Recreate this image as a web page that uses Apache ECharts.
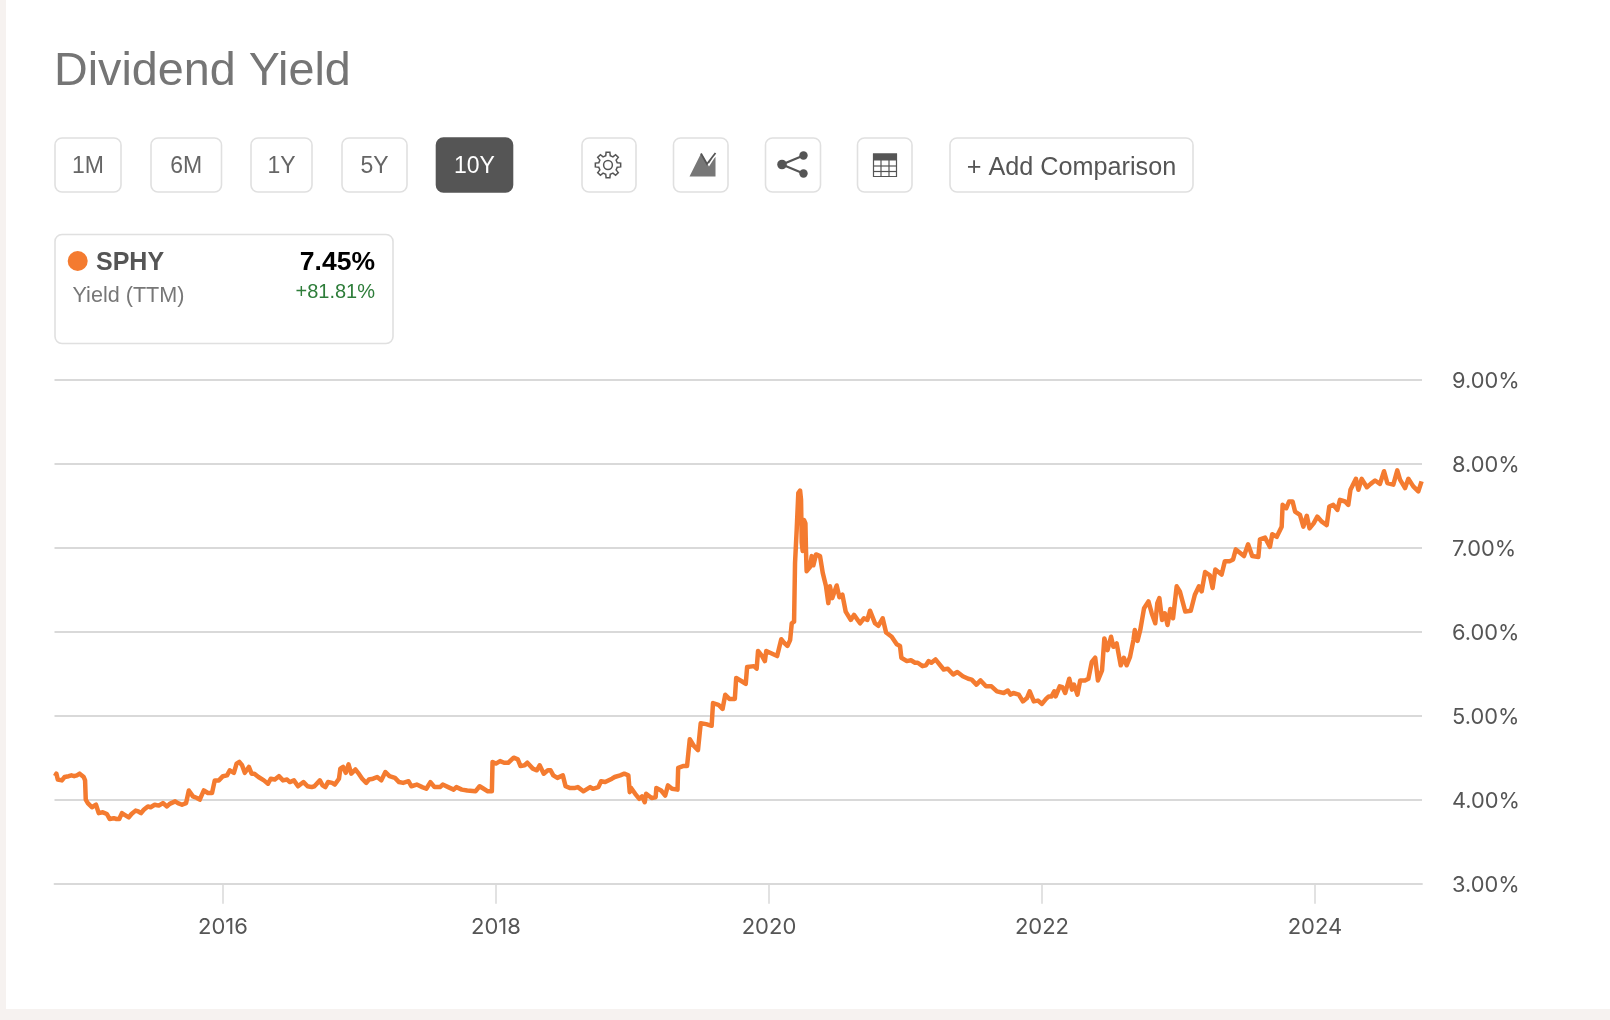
<!DOCTYPE html>
<html><head><meta charset="utf-8"><title>Dividend Yield</title>
<style>html,body{margin:0;padding:0;background:#f6f2f0;overflow:hidden}#c{width:1610px;height:1020px}</style>
<script src="https://cdn.jsdelivr.net/npm/echarts@6/dist/echarts.min.js"></script></head>
<body><div id="c"></div><script>
const yearTicks=[2016,2018,2020,2022,2024];
const rangeLabels=['1M','6M','1Y','5Y','10Y'];
const years=[
2014.77,2014.78,2014.79,2014.82,2014.84,2014.87,2014.89,2014.91,2014.93,2014.95,
2014.98,2014.99,2014.995,2015.01,2015.04,2015.07,2015.09,2015.12,2015.15,2015.17,
2015.20,2015.22,2015.24,2015.26,2015.28,2015.31,2015.33,2015.36,2015.38,2015.40,
2015.42,2015.45,2015.47,2015.50,2015.53,2015.56,2015.59,2015.61,2015.65,2015.67,
2015.70,2015.73,2015.75,2015.78,2015.81,2015.83,2015.86,2015.89,2015.92,2015.94,
2015.97,2016.00,2016.03,2016.05,2016.08,2016.10,2016.12,2016.14,2016.16,2016.19,
2016.21,2016.23,2016.26,2016.30,2016.33,2016.35,2016.38,2016.41,2016.44,2016.47,
2016.49,2016.52,2016.55,
2016.59,2016.62,2016.65,2016.67,2016.71,2016.73,2016.75,2016.77,2016.80,2016.82,
2016.85,2016.86,2016.88,2016.90,2016.92,2016.94,2016.97,2016.99,2017.02,2017.05,
2017.07,2017.10,2017.13,2017.16,2017.19,2017.22,2017.26,2017.29,2017.32,2017.36,
2017.38,2017.42,2017.46,2017.49,2017.52,2017.55,2017.59,2017.61,2017.65,2017.69,
2017.71,2017.75,2017.79,2017.85,2017.88,2017.91,2017.94,2017.97,2017.975,2018.00,
2018.03,2018.06,2018.09,2018.13,2018.16,2018.18,2018.21,2018.23,2018.27,2018.30,
2018.32,2018.35,2018.38,
2018.40,2018.42,2018.45,2018.49,2018.51,2018.54,2018.58,2018.60,2018.64,2018.69,
2018.71,2018.75,2018.77,2018.80,2018.85,2018.87,2018.91,2018.94,2018.97,2018.98,
2018.99,2019.02,2019.05,2019.07,2019.09,2019.10,2019.14,2019.17,2019.175,2019.21,
2019.24,2019.26,2019.29,2019.33,2019.335,2019.37,2019.40,2019.41,2019.42,2019.45,
2019.48,2019.50,2019.54,2019.58,2019.59,2019.63,2019.66,2019.68,2019.71,2019.75,
2019.76,2019.80,2019.83,2019.84,2019.89,2019.91,2019.92,2019.95,2019.97,2019.98,
2020.02,2020.06,
2020.09,2020.11,2020.135,2020.155,2020.167,2020.184,2020.191,2020.203,2020.215,2020.228,
2020.235,2020.24,2020.247,2020.257,2020.267,2020.271,2020.276,2020.30,2020.313,2020.325,
2020.345,2020.374,2020.394,2020.418,2020.435,2020.447,2020.464,2020.496,2020.516,2020.538,
2020.562,2020.599,2020.623,2020.667,2020.696,2020.721,2020.74,2020.777,2020.801,2020.833,
2020.858,2020.899,2020.936,
2020.96,2020.97,2021.01,2021.04,2021.07,2021.09,2021.125,2021.15,2021.17,2021.19,
2021.22,2021.25,2021.28,2021.31,2021.35,2021.38,2021.42,2021.46,2021.485,2021.52,
2021.55,2021.59,2021.63,2021.67,2021.72,2021.75,2021.77,2021.79,2021.83,2021.86,
2021.89,2021.91,2021.94,2021.97,2022.00,2022.03,2022.05,
2022.07,2022.09,2022.10,2022.13,2022.15,2022.17,2022.20,2022.22,2022.235,2022.26,
2022.28,2022.315,2022.34,2022.365,2022.39,2022.41,2022.44,2022.457,2022.48,2022.506,
2022.523,2022.547,2022.577,2022.60,2022.62,2022.645,2022.67,2022.68,2022.70,2022.72,
2022.748,2022.78,2022.804,2022.83,2022.845,2022.86,2022.88,2022.90,2022.92,2022.94,
2022.96,2022.987,2023.01,2023.05,2023.09,2023.12,2023.15,2023.17,2023.195,2023.23,
2023.25,
2023.27,2023.316,2023.34,2023.377,2023.40,2023.42,2023.45,2023.48,2023.51,2023.54,
2023.585,2023.597,2023.634,2023.67,2023.687,2023.72,2023.756,2023.763,2023.79,2023.81,
2023.836,2023.854,2023.89,2023.915,2023.94,2023.96,2023.99,2024.017,2024.05,2024.086,
2024.105,2024.134,2024.164,2024.183,2024.22,2024.244,2024.26,2024.30,2024.318,2024.342,
2024.38,2024.408,2024.44,2024.476,2024.506,2024.53,2024.574,2024.603,2024.623,2024.66,
2024.684,2024.72,2024.757,2024.781];
const yields=[
4.28,4.31,4.24,4.23,4.27,4.28,4.29,4.28,4.29,4.31,
4.27,4.23,4.00,3.96,3.91,3.94,3.84,3.85,3.83,3.77,
3.78,3.77,3.77,3.84,3.82,3.79,3.83,3.87,3.86,3.84,
3.88,3.92,3.91,3.94,3.93,3.96,3.92,3.95,3.98,3.96,
3.94,3.96,4.11,4.04,4.02,4.00,4.11,4.08,4.08,4.23,
4.23,4.28,4.29,4.35,4.32,4.43,4.45,4.41,4.32,4.39,
4.31,4.31,4.27,4.23,4.19,4.25,4.24,4.28,4.23,4.24,
4.21,4.23,4.16,
4.21,4.16,4.15,4.16,4.23,4.17,4.15,4.21,4.20,4.18,
4.25,4.37,4.39,4.32,4.42,4.31,4.36,4.32,4.25,4.20,
4.24,4.25,4.27,4.23,4.33,4.28,4.26,4.21,4.20,4.22,
4.16,4.18,4.15,4.13,4.21,4.15,4.15,4.18,4.15,4.12,
4.15,4.12,4.11,4.10,4.16,4.13,4.10,4.10,4.45,4.43,
4.46,4.44,4.44,4.50,4.48,4.40,4.41,4.44,4.37,4.35,
4.41,4.31,4.35,
4.35,4.29,4.26,4.29,4.16,4.14,4.14,4.15,4.10,4.15,
4.13,4.15,4.22,4.21,4.25,4.27,4.29,4.31,4.29,4.09,
4.14,4.07,4.01,4.04,3.97,4.07,4.02,4.03,4.14,4.11,
4.05,4.17,4.13,4.12,4.38,4.40,4.40,4.42,4.72,4.64,
4.59,4.91,4.90,4.88,5.15,5.13,5.08,5.25,5.20,5.20,
5.45,5.41,5.38,5.58,5.59,5.56,5.77,5.71,5.65,5.77,
5.74,5.71,
5.91,5.87,5.83,5.90,6.10,6.12,6.82,7.21,7.65,7.68,
7.57,7.06,6.96,7.33,7.29,6.98,6.72,6.77,6.90,6.79,
6.92,6.90,6.70,6.54,6.34,6.54,6.40,6.55,6.41,6.44,
6.24,6.14,6.20,6.10,6.16,6.14,6.25,6.10,6.07,6.16,
5.99,5.94,5.85,
5.83,5.69,5.65,5.66,5.63,5.63,5.59,5.60,5.65,5.63,
5.67,5.61,5.55,5.56,5.49,5.52,5.47,5.44,5.43,5.37,
5.42,5.35,5.35,5.29,5.27,5.30,5.25,5.27,5.25,5.17,
5.21,5.29,5.17,5.18,5.14,5.20,5.23,
5.23,5.29,5.23,5.35,5.34,5.27,5.44,5.31,5.37,5.25,
5.42,5.42,5.44,5.64,5.69,5.42,5.54,5.92,5.78,5.94,
5.82,5.86,5.60,5.69,5.60,5.70,5.90,6.02,5.89,6.02,
6.28,6.36,6.22,6.10,6.34,6.40,6.14,6.22,6.08,6.27,
6.16,6.54,6.48,6.24,6.25,6.44,6.54,6.48,6.71,6.67,
6.52,
6.74,6.68,6.84,6.84,6.86,6.98,6.94,6.90,7.04,6.90,
6.89,7.10,7.12,7.01,7.16,7.13,7.25,7.51,7.47,7.55,
7.55,7.43,7.39,7.25,7.38,7.23,7.29,7.37,7.31,7.27,
7.49,7.51,7.45,7.57,7.55,7.51,7.69,7.82,7.69,7.82,
7.72,7.76,7.80,7.76,7.91,7.77,7.75,7.92,7.81,7.71,
7.82,7.73,7.67,7.79];

const ORANGE='#f47b30',BORDER='#e0e0e0',GRID='#d9d9d9',INK='#555',FONT='"Liberation Sans",Arial,sans-serif',TICKFONT='Inter,"Noto Sans",sans-serif';
const g=[];
function box(x,y,w,h,opt){g.push({type:'rect',shape:{x,y,width:w,height:h,r:(opt&&opt.r)||7},style:{fill:(opt&&opt.fill)||'#fff',stroke:(opt&&opt.stroke)||BORDER,lineWidth:1.6},z:2});}
function txt(text,x,y,font,fill,align){g.push({type:'text',x,y,style:{text,font,fill,align:align||'center',verticalAlign:'middle'},z:3});}
// page card
g.push({type:'rect',shape:{x:6,y:0,width:1604,height:1009},style:{fill:'#fff'},z:0});
// range buttons
const rangeX=[[55,121],[151,221.5],[251,312],[342,407],[436.5,512.5]];
rangeLabels.forEach((t,i)=>{const[a,b]=rangeX[i],on=i===4;
 box(a,138,b-a,54,{fill:on?'#555':'#fff',stroke:on?'#555':BORDER});
 txt(t,(a+b)/2,167,'23px '+FONT,on?'#fff':'#666');});
// icon buttons
[[582,636],[673.5,728],[765.5,820.5],[857.5,912]].forEach(([a,b])=>box(a,138,b-a,54));
// gear icon
(function(){const cx=608,cy=165,n=8;const pts=[];
 for(let i=0;i<n;i++){const t=i/n*Math.PI*2;
  [[-.24,9.5],[-.15,12.8],[.15,12.8],[.24,9.5]].forEach(([o,r])=>pts.push([cx+r*Math.cos(t+o),cy+r*Math.sin(t+o)]));}
 g.push({type:'polygon',shape:{points:pts},style:{fill:'none',stroke:'#555',lineWidth:1.5},z:3});
 g.push({type:'circle',shape:{cx,cy,r:4.4},style:{fill:'none',stroke:'#555',lineWidth:1.5},z:3});})();
// area-chart icon
g.push({type:'polygon',shape:{points:[[689.5,176.5],[701,153.5],[707,162],[715.5,157],[715.5,176.5]]},style:{fill:'#777'},z:3});
g.push({type:'polyline',shape:{points:[[704,157],[709,165],[715.5,155]]},style:{fill:'none',stroke:'#fff',lineWidth:1.5},z:3});
g.push({type:'polyline',shape:{points:[[701,153.5],[707,164],[715.5,153]]},style:{fill:'none',stroke:'#555',lineWidth:1.8},z:3});
// share icon
g.push({type:'polyline',shape:{points:[[803.5,155.5],[782,164.5],[803.5,173.5]]},style:{fill:'none',stroke:'#555',lineWidth:2.2},z:3});
[[782,164.5,4.8],[803.5,155.5,4.2],[803.5,173.5,4.2]].forEach(([cx,cy,r])=>g.push({type:'circle',shape:{cx,cy,r},style:{fill:'#555'},z:3}));
// table icon
g.push({type:'rect',shape:{x:873.5,y:154,width:23,height:22.5},style:{fill:'none',stroke:'#555',lineWidth:1.2},z:3});
g.push({type:'rect',shape:{x:873,y:153.5,width:24,height:7},style:{fill:'#555'},z:3});
[[881,160,881,176.5],[889,160,889,176.5],[873.5,166,896.5,166],[873.5,171.5,896.5,171.5]].forEach(([x1,y1,x2,y2])=>g.push({type:'line',shape:{x1,y1,x2,y2},style:{stroke:'#555',lineWidth:1.2},z:3}));
// add comparison
box(950,138,243,54);
txt('+ Add Comparison',1071.5,168.5,'25.2px '+FONT,INK);
// legend card
box(55,234.5,338,109);
g.push({type:'circle',shape:{cx:77.7,cy:261,r:10},style:{fill:ORANGE},z:3});
txt('SPHY',96,263.5,'bold 25px '+FONT,INK,'left');
txt('Yield (TTM)',72.5,296.5,'21.6px '+FONT,'#777','left');
txt('7.45%',375,262.5,'bold 26.5px '+FONT,'#000','right');
txt('+81.81%',375,292,'20px '+FONT,'#2e7d3a','right');

const chart=echarts.init(document.getElementById('c'),null,{renderer:'canvas',width:1610,height:1020});
chart.setOption({
 animation:false,
 backgroundColor:'transparent',
 title:{text:'Dividend Yield',left:49,top:43.5,textStyle:{fontFamily:FONT,fontSize:46.7,fontWeight:'normal',color:'#757575'}},
 grid:{left:54.5,right:188,top:379.7,bottom:136.3,containLabel:false},
 xAxis:{type:'value',min:2014.766,max:2024.784,
  axisLine:{show:true,lineStyle:{color:GRID,width:1.8}},
  axisTick:{show:true,customValues:yearTicks,length:20,lineStyle:{color:GRID,width:1.5}},
  axisLabel:{show:true,customValues:yearTicks,margin:33,fontFamily:TICKFONT,fontSize:22,color:INK,formatter:v=>String(v)},
  splitLine:{show:false}},
 yAxis:{type:'value',position:'right',min:3,max:9,interval:1,
  axisLine:{show:false},axisTick:{show:false},
  axisLabel:{margin:30,formatter:v=>'{a|'+v.toFixed(2)+'%}',
   rich:{a:{fontFamily:TICKFONT,fontSize:21.8,color:INK,padding:[4,0,0,0]}}},
  splitLine:{show:true,lineStyle:{color:GRID,width:1.8}}},
 series:[{type:'line',name:'SPHY',data:years.map((y,i)=>[y,yields[i]]),showSymbol:false,smooth:false,
  lineStyle:{color:ORANGE,width:4.5,join:'round'},itemStyle:{color:ORANGE},z:5}],
 graphic:g
});
</script></body></html>
